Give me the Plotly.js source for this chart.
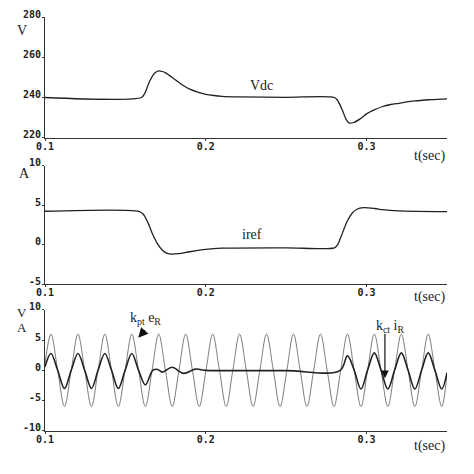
<!DOCTYPE html>
<html>
<head>
<meta charset="utf-8">
<script src="https://cdn.plot.ly/plotly-3.0.1.min.js"></script>
<style>html,body{margin:0;padding:0;background:#fff;}#chart{width:474px;height:474px;}</style>
</head>
<body>
<div id="chart"></div>
<script>
// ---- data ----
const vdcT = [0.100,0.160,0.162,0.165,0.168,0.1705,0.173,0.175,0.180,0.185,0.190,0.195,0.200,0.205,0.210,0.220,0.250,0.280,0.282,0.285,0.287,0.289,0.292,0.296,0.300,0.305,0.310,0.315,0.320,0.330,0.340,0.350];
const vdcV = [240,240,242,248,252,253.3,253,252.3,249.5,246.5,244.2,242.7,241.6,241.0,240.6,240.3,240.1,240,238.5,233.5,229.5,227.3,227.5,229.3,231.8,233.9,235.5,236.5,237.1,238.3,238.9,239.3];

const irefT = [0.100,0.158,0.161,0.164,0.167,0.170,0.173,0.176,0.179,0.183,0.190,0.200,0.210,0.250,0.280,0.282,0.285,0.288,0.291,0.294,0.298,0.305,0.310,0.320,0.350];
const irefV = [4.25,4.25,3.9,2.8,1.3,0.1,-0.7,-1.1,-1.2,-1.15,-0.9,-0.6,-0.45,-0.4,-0.4,0.0,1.5,3.0,4.0,4.5,4.7,4.6,4.45,4.3,4.2];

const greyT = [0.1000,0.1037,0.1079,0.1121,0.1163,0.1205,0.1247,0.1289,0.1330,0.1372,0.1414,0.1456,0.1498,0.1540,0.1582,0.1624,0.1666,0.1707,0.1749,0.1791,0.1833,0.1875,0.1917,0.1959,0.2001,0.2043,0.2085,0.2127,0.2168,0.2210,0.2252,0.2294,0.2336,0.2378,0.2420,0.2462,0.2504,0.2545,0.2587,0.2629,0.2671,0.2713,0.2755,0.2797,0.2839,0.2881,0.2923,0.2965,0.3006,0.3048,0.3090,0.3132,0.3174,0.3216,0.3258,0.3300,0.3342,0.3383,0.3425,0.3467,0.3500];
const greyV = [1.1,6,0,-6,0,6,0,-6,0,6,0,-6,0,6,0,-6,0,6,0,-6,0,6,0,-6,0,6,0,-6,0,6,0,-6,0,6,0,-6,0,6,0,-6,0,6,0,-6,0,6,0,-6,0,6,0,-6,0,6,0,-6,0,6,0,-6,-0.7];

const blackT = [0.1000,0.1037,0.1079,0.1121,0.1163,0.1205,0.1247,0.1289,0.1330,0.1372,0.1414,0.1456,0.1498,0.1540,0.1582,0.1624,0.1670,0.1700,0.1730,0.1790,0.1862,0.1935,0.2000,0.2100,0.2500,0.2834,0.2881,0.2923,0.2965,0.3006,0.3048,0.3090,0.3132,0.3174,0.3216,0.3258,0.3300,0.3342,0.3383,0.3425,0.3467,0.3500];
const blackV = [0.6,2.8,0,-3.0,0,2.8,0,-3.0,0,2.8,0,-3.0,0,2.8,0,-2.4,0.0,0.15,-0.3,0.5,-0.5,0.2,0.0,-0.05,-0.05,-0.05,2.4,0,-3.1,0,2.9,0,-3.1,0,2.9,0,-3.1,0,2.9,0,-3.1,-0.4];

const xTicks = [0.1,0.2,0.3];
const xTickText = ['0.1','0.2','0.3'];
const y1Ticks = [220,240,260,280];
const y2Ticks = [-5,0,5,10];
const y3Ticks = [-10,-5,0,5,10];

// ---- styling ----
const tickFont = {family:'DejaVu Sans Mono', size:10, weight:'bold', color:'#222'};
const serif = {family:'Liberation Serif', size:14, color:'#222'};
const serifSm = {family:'Liberation Serif', size:13, color:'#222'};
function xa(anchor){
  return {anchor:anchor, domain:[0,1], range:[0.1,0.35], tickvals:xTicks, ticktext:xTickText,
    showline:true, linecolor:'#333', linewidth:1, showgrid:false, zeroline:false,
    ticks:'outside', ticklen:2, tickcolor:'#333', tickfont:tickFont, ticklabelstandoff:-3};
}
function ya(anchor, dom, rng, tv){
  return {anchor:anchor, domain:dom, range:rng, tickvals:tv, ticktext:tv.map(String),
    showline:true, linecolor:'#333', linewidth:1, showgrid:false, zeroline:false,
    ticks:'outside', ticklen:2, tickcolor:'#333', tickfont:tickFont, ticklabelshift:-3, ticklabelstandoff:-1};
}

const traces = [
  {x:vdcT, y:vdcV, xaxis:'x', yaxis:'y', mode:'lines', line:{color:'#222', width:1.3, shape:'spline', smoothing:0.8}},
  {x:irefT, y:irefV, xaxis:'x2', yaxis:'y2', mode:'lines', line:{color:'#222', width:1.3, shape:'spline', smoothing:0.8}},
  {x:greyT, y:greyV, xaxis:'x3', yaxis:'y3', mode:'lines', line:{color:'#7a7a7a', width:1, shape:'spline', smoothing:1}},
  {x:blackT, y:blackV, xaxis:'x3', yaxis:'y3', mode:'lines', line:{color:'#222', width:1.6, shape:'spline', smoothing:1}}
];

const ann = [
  {xref:'paper', yref:'paper', x:-0.058, y:1-30/474, text:'V', showarrow:false, font:serif, xanchor:'center', yanchor:'middle'},
  {xref:'paper', yref:'paper', x:-0.05, y:1-174/474, text:'A', showarrow:false, font:serif, xanchor:'center', yanchor:'middle'},
  {xref:'paper', yref:'paper', x:-0.058, y:1-312/474, text:'V', showarrow:false, font:serifSm, xanchor:'center', yanchor:'middle'},
  {xref:'paper', yref:'paper', x:-0.058, y:1-327/474, text:'A', showarrow:false, font:serifSm, xanchor:'center', yanchor:'middle'},
  {xref:'paper', yref:'paper', x:1.0, y:1-156/474, text:'t(sec)', showarrow:false, font:serif, xanchor:'right', yanchor:'middle'},
  {xref:'paper', yref:'paper', x:1.0, y:1-297/474, text:'t(sec)', showarrow:false, font:serif, xanchor:'right', yanchor:'middle'},
  {xref:'paper', yref:'paper', x:1.0, y:1-446/474, text:'t(sec)', showarrow:false, font:serif, xanchor:'right', yanchor:'middle'},
  {xref:'x', yref:'y', x:0.2346, y:245.8, text:'Vdc', showarrow:false, font:serif},
  {xref:'x2', yref:'y2', x:0.229, y:1.25, text:'iref', showarrow:false, font:serif},
  {xref:'x3', yref:'y3', x:0.1625, y:8.6, text:'k<sub>pt</sub> e<sub>R</sub>', showarrow:false, font:serif},
  {xref:'x3', yref:'y3', x:0.3145, y:7.2, text:'k<sub>ct</sub> i<sub>R</sub>', showarrow:false, font:serif},
  {xref:'x3', yref:'y3', x:0.158, y:5.4, ax:8, ay:-9, text:'', showarrow:true, arrowhead:2, arrowsize:1.3, arrowwidth:1.5, arrowcolor:'#111'},
  {xref:'x3', yref:'y3', x:0.3114, y:-1.33, ax:0, ay:-46, text:'', showarrow:true, arrowhead:2, arrowsize:1.3, arrowwidth:1.2, arrowcolor:'#111'}
];

const layout = {
  width:474, height:474, paper_bgcolor:'#fff', plot_bgcolor:'#fff', showlegend:false,
  margin:{l:45, r:27, t:0, b:0},
  xaxis:xa('y'), xaxis2:xa('y2'), xaxis3:xa('y3'),
  yaxis:ya('x', [0.7099,0.9631], [220,280], y1Ticks),
  yaxis2:ya('x2', [0.4008,0.6498], [-5,10], y2Ticks),
  yaxis3:ya('x3', [0.0914,0.3460], [-10,10], y3Ticks),
  annotations:ann
};

Plotly.newPlot('chart', traces, layout, {staticPlot:true, displayModeBar:false});
</script>
</body>
</html>
